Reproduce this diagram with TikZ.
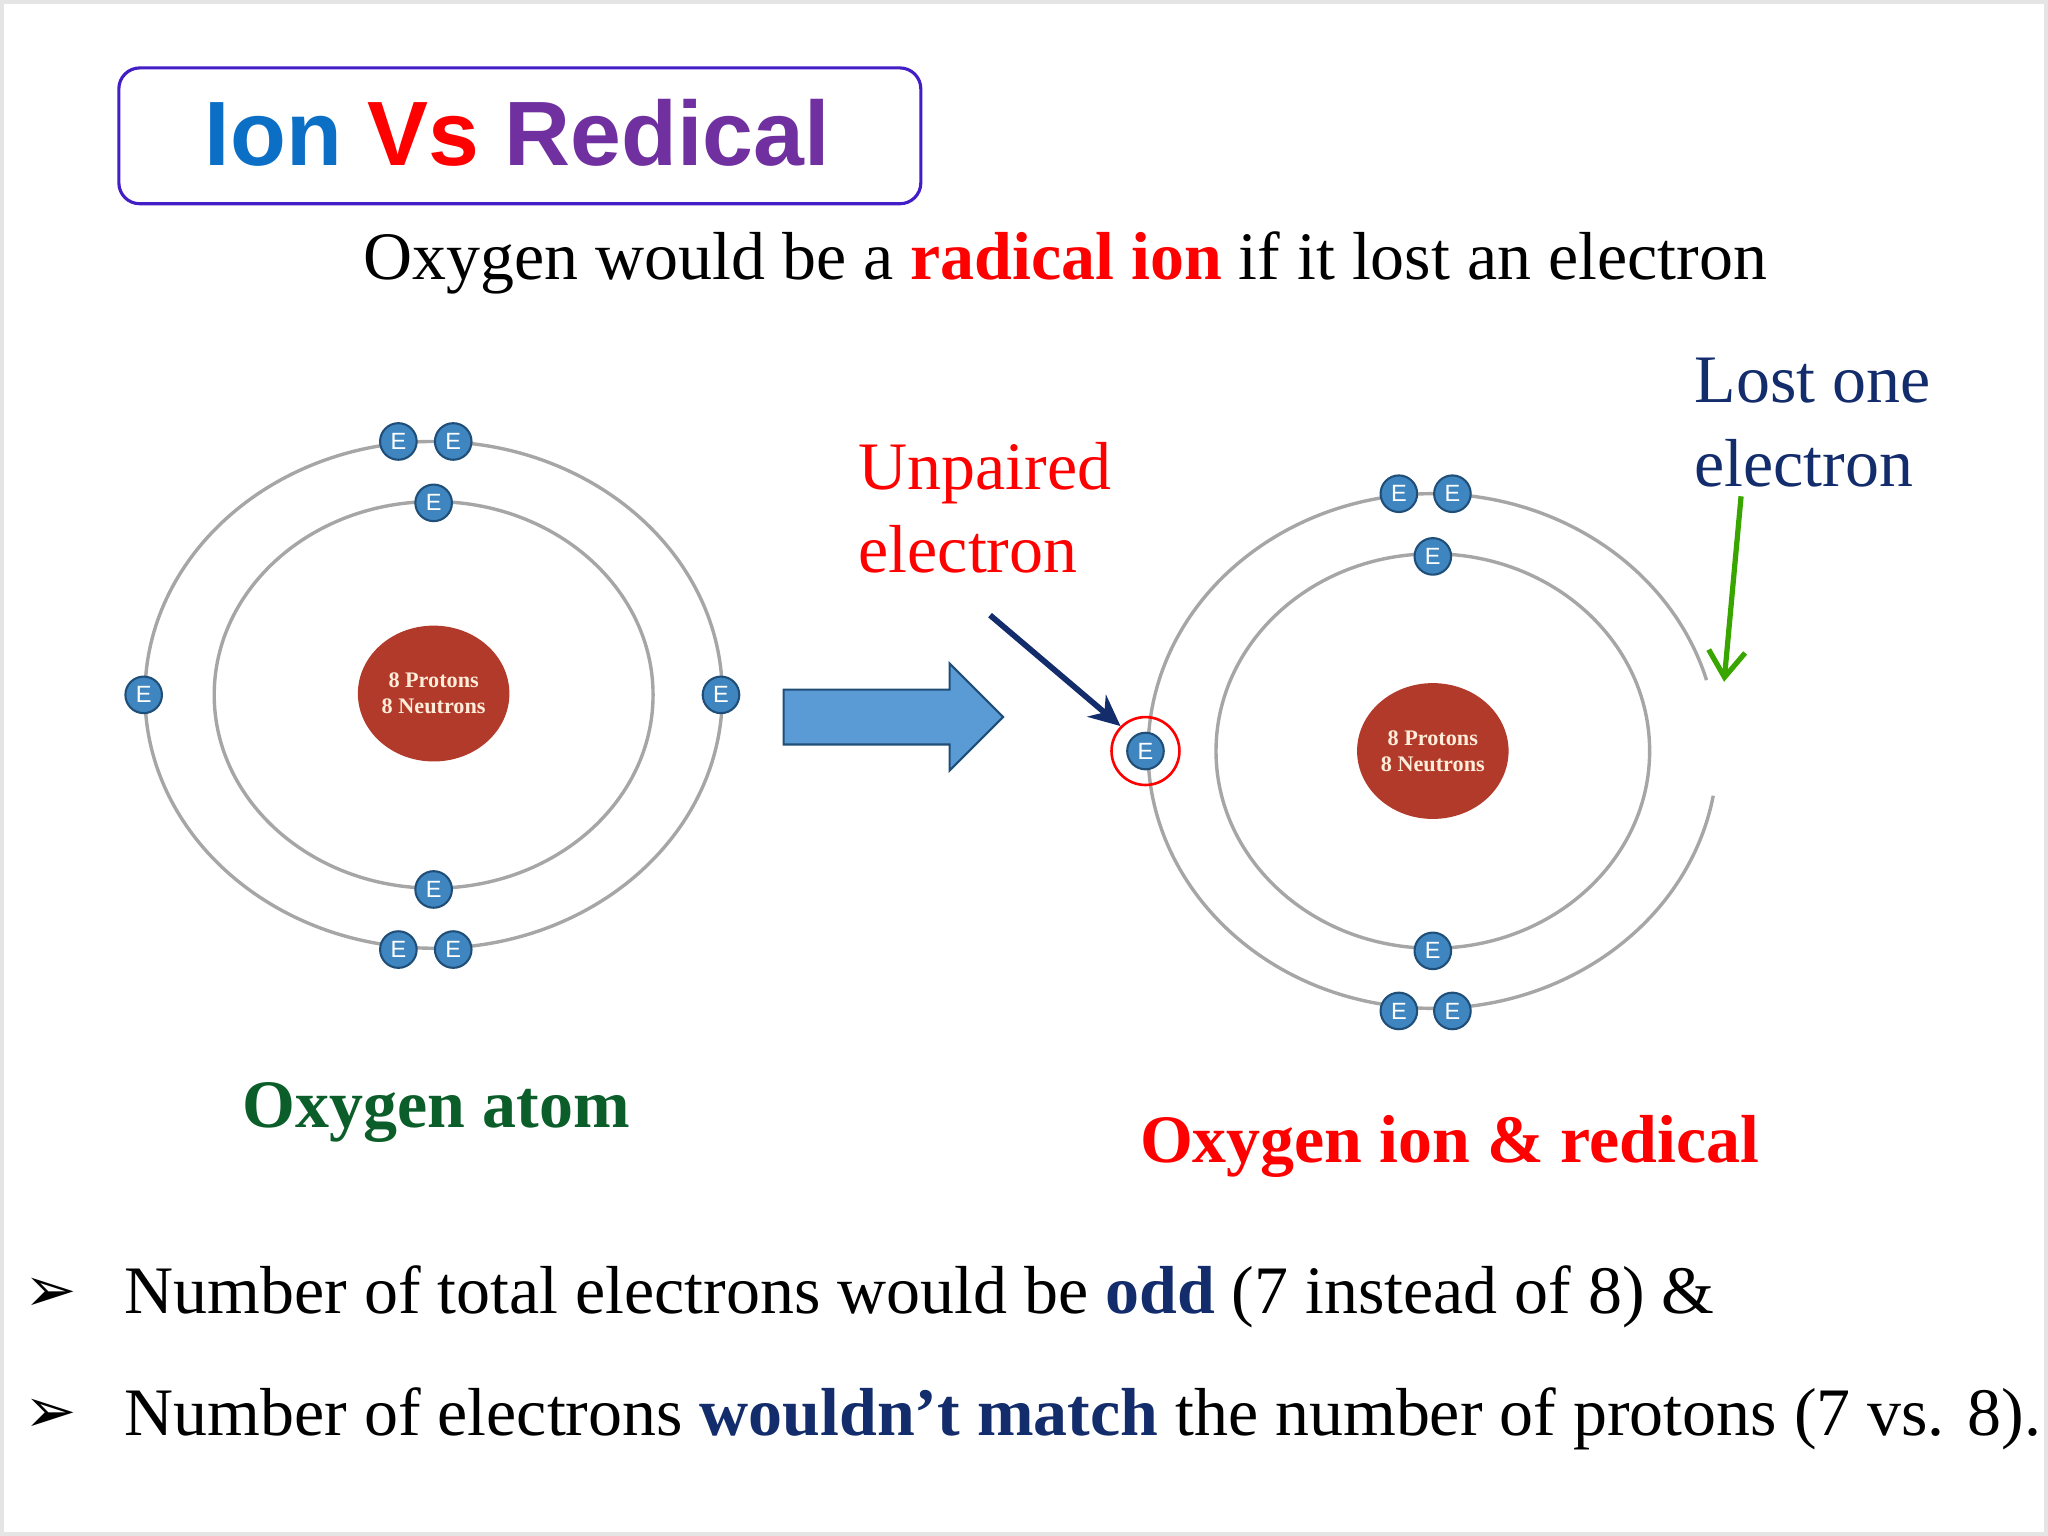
\documentclass[tikz,border=0pt]{standalone}
\usepackage{fontspec}
\setmainfont{Liberation Serif}
\newfontfamily\arial{Liberation Sans}
\newfontfamily\dejavu{DejaVu Sans}
\usetikzlibrary{arrows.meta,shapes.geometric}
\definecolor{eblue}{HTML}{3F86C0}
\definecolor{eedge}{HTML}{1F4E79}
\definecolor{nucl}{HTML}{B23A2A}
\definecolor{navy}{HTML}{132C6B}
\definecolor{dgreen}{HTML}{0B5E2A}
\definecolor{ttlblue}{HTML}{0B6FC6}
\definecolor{ttlpurple}{HTML}{7030A0}
\definecolor{orbit}{HTML}{A6A6A6}
\definecolor{barrow}{HTML}{5B9BD5}
\tikzset{
 elec/.style={circle,fill=eblue,draw=eedge,line width=0.8pt,minimum size=14pt,inner sep=0pt,text=white,font=\arial\fontsize{9}{9}\selectfont},
 orb/.style={draw=orbit,line width=1.3pt},
 nuc/.style={ellipse,fill=nucl,minimum width=58pt,minimum height=52pt,inner sep=0pt,text=white!85!orange,align=center,font=\bfseries\fontsize{8.5}{10}\selectfont},
 body/.style={font=\fontsize{26}{30}\selectfont,anchor=base west,inner sep=0pt},
 lbl/.style={font=\fontsize{26}{32}\selectfont,align=left,anchor=north west,inner sep=0pt},
}
\begin{document}
\begin{tikzpicture}[x=0.5pt,y=-0.5pt]
\useasboundingbox (0,0) rectangle (1568,1176);
\fill[white] (0,0) rectangle (1568,1176);
\draw[gray!20,line width=3pt] (0,0) rectangle (1568,1176);
% title
\node[draw=ttlpurple!60!blue,line width=1.2pt,rounded corners=8pt,minimum width=307pt,minimum height=52pt] (title) at (398,104) {};
\node[font=\arial\bfseries\fontsize{35}{38}\selectfont] (ttxt) at (396,102) {\textcolor{ttlblue}{Ion} \textcolor{red}{Vs} \textcolor{ttlpurple}{Redical}};
\node[body] (head) at (278,214) {Oxygen would be a \textcolor{red}{\bfseries radical ion} if it lost an electron};
% left atom
\draw[orb] (332,532) ellipse [x radius=221,y radius=194];
\draw[orb] (332,532) ellipse [x radius=168,y radius=148];
\node[nuc] (n1) at (332,531) {8 Protons\\8 Neutrons};
\foreach \n/\x/\y in {a/305/338,b/347/338,c/332/385,d/110/532,e/552/532,f/332/681,g/305/727,h/347/727}
  \node[elec] (L\n) at (\x,\y) {E};
% right atom
\draw[orb] (1097,575) ++(10:218 and 197) arc[start angle=10,end angle=344,x radius=218,y radius=197];
\draw[orb] (1097,575) ellipse [x radius=166,y radius=151];
\node[nuc] (n2) at (1097,575) {8 Protons\\8 Neutrons};
\foreach \n/\x/\y in {a/1071/378,b/1112/378,c/1097/426,f/1097/728,g/1071/774,h/1112/774}
  \node[elec] (R\n) at (\x,\y) {E};
\node[elec] (Rd) at (877,575) {E};
\node[circle,draw=red,line width=1pt,minimum size=26pt] (ring) at (Rd) {};
% block arrow
\draw[fill=barrow,draw=eedge,line width=0.8pt] (600,528) -- (727,528) -- (727,508) -- (768,549) -- (727,590) -- (727,570) -- (600,570) -- cycle;
% labels
\node[lbl,text=red] (unp) at (657,338) {Unpaired\\electron};
\coordinate (ua) at (758,471);
\draw[navy,line width=2.2pt,-{Stealth[length=12pt,width=11pt]}] (ua) -- (ring.north west);
\node[lbl,text=navy] (lost) at (1297,274) {Lost one\\electron};
\coordinate (ga) at (1333,380);
\coordinate (gb) at (1320,522);
\draw[green!50!black!70!lime,line width=2pt,-{Straight Barb[length=10pt,width=14pt]}] (ga) -- (gb);
\node[font=\bfseries\fontsize{26}{30}\selectfont,text=dgreen] (lab1) at (334,852) {Oxygen atom};
\node[font=\bfseries\fontsize{26}{30}\selectfont,text=red] (lab2) at (1110,878) {Oxygen ion \& redical};
% bullets
\node[font=\dejavu\fontsize{24}{24}\selectfont,anchor=base west,inner sep=0pt] (b1) at (18,1004) {➢};
\node[font=\dejavu\fontsize{24}{24}\selectfont,anchor=base west,inner sep=0pt] (b2) at (18,1097) {➢};
\node[body] (t1) at (95,1006) {Number of total electrons would be \textcolor{navy}{\bfseries odd} (7 instead of 8) \&};
\node[body] (t2) at (95,1099) {Number of electrons \textcolor{navy}{\bfseries wouldn{\char"27}t match} the number of protons (7 vs. 8).};
\end{tikzpicture}
\end{document}
